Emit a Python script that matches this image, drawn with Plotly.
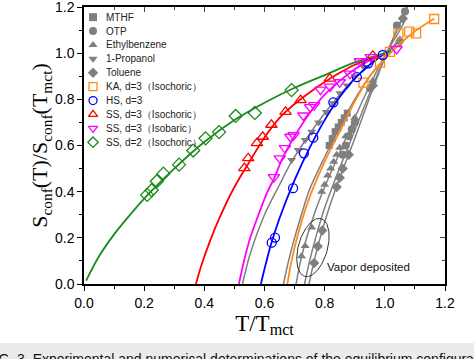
import numpy as np
import plotly.graph_objects as go

# ---------------- data ----------------
# SS, d=2 (Isochoric) - green diamonds and fit
ss2_x = [0.210, 0.225, 0.242, 0.264, 0.316, 0.363, 0.404, 0.449, 0.504, 0.568, 0.690]
ss2_y = [0.386, 0.406, 0.445, 0.478, 0.517, 0.578, 0.631, 0.658, 0.728, 0.741, 0.840]
ss2_fit_x = [0.007, 0.05, 0.10, 0.15, 0.20, 0.30, 0.40, 0.50, 0.60, 0.70, 0.80, 0.90, 1.00, 1.02]
ss2_fit_y = [0.015, 0.12, 0.215, 0.295, 0.37, 0.50, 0.615, 0.71, 0.785, 0.85, 0.905, 0.96, 1.00, 1.01]

# SS, d=3 (Isochoric) - red triangles and fit
ssc_x = [0.533, 0.546, 0.575, 0.594, 0.623, 0.670, 0.720, 0.817, 0.960]
ssc_y = [0.502, 0.545, 0.610, 0.638, 0.690, 0.746, 0.797, 0.890, 0.989]
ssc_fit_x = [0.372, 0.39, 0.42, 0.45, 0.50, 0.55, 0.60, 0.65, 0.70, 0.75, 0.80, 0.85, 0.90, 0.95, 1.00]
ssc_fit_y = [0.0, 0.08, 0.19, 0.285, 0.42, 0.53, 0.635, 0.72, 0.78, 0.83, 0.875, 0.915, 0.95, 0.975, 1.0]

# SS, d=3 (Isobaric) - magenta inverted triangles and fit
ssp_x = [0.631, 0.651, 0.668, 0.686, 0.697, 0.729, 0.752, 0.765, 0.786, 0.818, 0.850, 0.884, 0.917, 0.953, 1.039]
ssp_y = [0.463, 0.544, 0.589, 0.638, 0.645, 0.730, 0.766, 0.775, 0.842, 0.855, 0.874, 0.911, 0.965, 0.983, 1.018]
ssp_fit_x = [0.515, 0.53, 0.55, 0.58, 0.61, 0.633, 0.66, 0.70, 0.75, 0.80, 0.85, 0.90, 0.95, 1.00]
ssp_fit_y = [0.0, 0.09, 0.19, 0.30, 0.40, 0.46, 0.545, 0.64, 0.74, 0.82, 0.88, 0.93, 0.97, 1.0]

# HS, d=3 - blue circles and fit
hs_x = [0.624, 0.635, 0.695, 0.731, 0.762, 0.829, 0.907, 0.945, 0.993]
hs_y = [0.179, 0.201, 0.415, 0.566, 0.634, 0.787, 0.896, 0.956, 0.992]
hs_fit_x = [0.588, 0.60, 0.62, 0.65, 0.70, 0.75, 0.80, 0.85, 0.90, 0.95, 1.00]
hs_fit_y = [0.0, 0.065, 0.165, 0.285, 0.45, 0.59, 0.71, 0.81, 0.89, 0.95, 1.0]

# KA, d=3 (Isochoric) - orange squares and fit
ka_x = [0.929, 0.984, 1.017, 1.045, 1.081, 1.104, 1.164]
ka_y = [0.872, 0.959, 1.006, 1.086, 1.093, 1.086, 1.148]
ka_fit_x = [0.676, 0.69, 0.71, 0.735, 0.76, 0.80, 0.85, 0.90, 0.95, 1.00, 1.05, 1.10, 1.165]
ka_fit_y = [0.0, 0.10, 0.21, 0.32, 0.41, 0.53, 0.66, 0.79, 0.90, 0.975, 1.04, 1.095, 1.15]

# Experimental (grey)
mthf_x = [0.815, 0.825, 0.835, 0.845, 0.855, 0.865, 0.875]
mthf_y = [0.60, 0.63, 0.66, 0.68, 0.70, 0.72, 0.74]
mthf_fit_x = [0.663, 0.68, 0.70, 0.725, 0.75, 0.80, 0.85, 0.90, 0.95, 1.00, 1.04]
mthf_fit_y = [0.0, 0.10, 0.20, 0.31, 0.41, 0.55, 0.68, 0.80, 0.90, 0.98, 1.05]

otp_x = [0.860, 0.870, 0.880, 0.890, 0.900, 0.951, 1.040, 1.067]
otp_y = [0.560, 0.600, 0.640, 0.670, 0.700, 0.848, 1.120, 1.180]
otp_fit_x = [0.733, 0.75, 0.77, 0.80, 0.84, 0.88, 0.92, 0.96, 1.00, 1.04, 1.075]
otp_fit_y = [0.0, 0.10, 0.20, 0.33, 0.47, 0.60, 0.73, 0.86, 0.98, 1.10, 1.20]

ethyl_x = [0.723, 0.735, 0.757, 0.790, 0.800, 0.810, 0.820, 0.830, 0.840, 0.850, 0.870, 0.900, 0.960, 1.050]
ethyl_y = [0.120, 0.165, 0.245, 0.400, 0.430, 0.470, 0.500, 0.530, 0.560, 0.590, 0.640, 0.720, 0.880, 1.060]
ethyl_fit_x = [0.705, 0.72, 0.74, 0.77, 0.80, 0.85, 0.90, 0.95, 1.00, 1.05, 1.07]
ethyl_fit_y = [0.0, 0.10, 0.20, 0.32, 0.42, 0.57, 0.72, 0.86, 0.99, 1.10, 1.15]

prop_x = [0.690, 0.712, 0.735, 0.757, 0.780, 0.805, 0.829, 0.851, 0.875, 0.900, 0.930, 0.960, 1.050]
prop_y = [0.537, 0.580, 0.624, 0.660, 0.700, 0.745, 0.783, 0.826, 0.860, 0.900, 0.940, 0.970, 1.043]
prop_fit_x = [0.527, 0.55, 0.60, 0.65, 0.69, 0.75, 0.80, 0.85, 0.90, 0.95, 1.00, 1.06]
prop_fit_y = [0.0, 0.12, 0.30, 0.43, 0.53, 0.65, 0.74, 0.82, 0.89, 0.95, 1.00, 1.06]

tol_x = [0.765, 0.777, 0.792, 0.840, 0.850, 0.860, 0.880, 0.960, 1.060]
tol_y = [0.091, 0.163, 0.232, 0.420, 0.460, 0.500, 0.560, 0.860, 1.150]
tol_fit_x = [0.748, 0.765, 0.785, 0.81, 0.85, 0.90, 0.95, 1.00, 1.04, 1.075]
tol_fit_y = [0.0, 0.10, 0.20, 0.31, 0.46, 0.63, 0.81, 0.98, 1.10, 1.20]

legend_labels = ["MTHF", "OTP", "Ethylbenzene", "1-Propanol", "Toluene",
                 "KA, d=3（Isochoric）", "HS, d=3", "SS, d=3（Isochoric）",
                 "SS, d=3（Isobaric）", "SS, d=2（Isochoric）"]

x_ticks = [0.0, 0.2, 0.4, 0.6, 0.8, 1.0, 1.2]
y_ticks = [0.0, 0.2, 0.4, 0.6, 0.8, 1.0, 1.2]

# ---------------- styles ----------------
GREY = "#7f7f7f"
ORANGE = "#ff8c1a"
BLUE = "#0000ff"
RED = "#ff0000"
MAGENTA = "#ff00ff"
GREEN = "#1a8a1a"

fig = go.Figure()

def line(x, y, color, width=1.6):
    fig.add_trace(go.Scatter(x=x, y=y, mode="lines", line=dict(color=color, width=width, shape="spline", smoothing=0.8),
                             showlegend=False, hoverinfo="skip"))

def pts(x, y, color, symbol, size, filled):
    if filled:
        m = dict(color=color, symbol=symbol, size=size, line=dict(width=0))
    else:
        m = dict(color="rgba(0,0,0,0)", symbol=symbol, size=size, line=dict(color=color, width=1.3))
    fig.add_trace(go.Scatter(x=x, y=y, mode="markers", marker=m, showlegend=False, hoverinfo="skip"))

# grey experimental
for fx, fy in [(mthf_fit_x, mthf_fit_y), (otp_fit_x, otp_fit_y), (ethyl_fit_x, ethyl_fit_y),
               (prop_fit_x, prop_fit_y), (tol_fit_x, tol_fit_y)]:
    line(fx, fy, GREY, 1.5)
pts(mthf_x, mthf_y, GREY, "square", 7, True)
pts(otp_x, otp_y, GREY, "circle", 8, True)
pts(ethyl_x, ethyl_y, GREY, "triangle-up", 8, True)
pts(prop_x, prop_y, GREY, "triangle-down", 8, True)
pts(tol_x, tol_y, GREY, "diamond", 8, True)

# simulation
line(ka_fit_x, ka_fit_y, ORANGE, 1.8)
line(hs_fit_x, hs_fit_y, BLUE, 1.8)
line(ssc_fit_x, ssc_fit_y, RED, 1.8)
line(ssp_fit_x, ssp_fit_y, MAGENTA, 1.8)
line(ss2_fit_x, ss2_fit_y, GREEN, 1.8)
pts(ka_x, ka_y, ORANGE, "square", 9, False)
pts(hs_x, hs_y, BLUE, "circle", 9, False)
pts(ssc_x, ssc_y, RED, "triangle-up", 10, False)
pts(ssp_x, ssp_y, MAGENTA, "triangle-down", 10, False)
pts(ss2_x, ss2_y, GREEN, "diamond", 10, False)

# ---------------- hand-drawn legend (compact rows) ----------------
leg_sym = [("square", GREY, True), ("circle", GREY, True), ("triangle-up", GREY, True),
           ("triangle-down", GREY, True), ("diamond", GREY, True), ("square", ORANGE, False),
           ("circle", BLUE, False), ("triangle-up", RED, False), ("triangle-down", MAGENTA, False),
           ("diamond", GREEN, False)]
LEG_X0, LEG_TX, LEG_Y0, LEG_DY = 0.030, 0.066, 1.156, 0.0602
for i, (lab, (sym, col, filled)) in enumerate(zip(legend_labels, leg_sym)):
    yy = LEG_Y0 - i * LEG_DY
    pts([LEG_X0], [yy], col, sym, 8, filled)
    fig.add_annotation(x=LEG_TX, y=yy, text=lab, showarrow=False, xanchor="left", yanchor="middle",
                       font=dict(family="Liberation Sans, Arial", size=10, color="#222"))

# ---------------- "Vapor deposited" ellipse ----------------
ELL_CX, ELL_CY = 0.761, 0.158      # centre (data units)
ELL_A, ELL_B, ELL_TILT = 30.0, 14.5, 16.0   # semi-axes (px), tilt (deg from vertical)
PX_X, PX_Y = 300.8, 230.8          # pixels per data unit
t = np.linspace(0, 2 * np.pi, 120)
ang = np.radians(ELL_TILT)
ex_px = ELL_B * np.cos(t) * np.cos(ang) + ELL_A * np.sin(t) * np.sin(ang)
ey_px = -ELL_B * np.cos(t) * np.sin(ang) + ELL_A * np.sin(t) * np.cos(ang)
fig.add_trace(go.Scatter(x=ELL_CX + ex_px / PX_X, y=ELL_CY + ey_px / PX_Y, mode="lines",
                         line=dict(color="#333", width=1), showlegend=False, hoverinfo="skip"))
fig.add_annotation(x=0.800, y=0.074, text="Vapor deposited", showarrow=False, xanchor="left",
                   yanchor="middle", font=dict(family="Liberation Sans, Arial", size=11.5, color="#111"))

# ---------------- caption strip ----------------
fig.add_shape(type="rect", xref="paper", yref="paper", x0=-0.3, x1=1.2, y0=-0.28, y1=-0.213,
              fillcolor="#ebebeb", line=dict(width=0), layer="below")
fig.add_annotation(xref="paper", yref="paper", x=-0.277, y=-0.233, xanchor="left", yanchor="top",
                   text="FIG. 3. Experimental and numerical determinations of the equilibrium configurational",
                   showarrow=False, font=dict(family="Liberation Sans, Arial", size=14, color="#111"))

# ---------------- axes ----------------
tickfont = dict(family="Liberation Sans, Arial", size=14, color="black")
axis_common = dict(range=[0, 1.2], showgrid=False, zeroline=False, showline=True, linecolor="black",
                   linewidth=1.5, ticks="outside", ticklen=5, tickwidth=1.3, tickcolor="black",
                   minor=dict(ticks="outside", ticklen=3, tickwidth=1.2, dtick=0.1, tickcolor="black"),
                   tickfont=tickfont, automargin=False, ticklabeloverflow="allow")
fig.update_layout(
    width=474, height=359, margin=dict(l=84, r=29, t=7, b=75, autoexpand=False),
    paper_bgcolor="white", plot_bgcolor="white",
    xaxis=dict(**axis_common, tickvals=x_ticks, ticktext=[f"{v:.1f}" for v in x_ticks],
               title=dict(text="T/T<sub>mct</sub>", standoff=0,
                          font=dict(family="Liberation Serif, Times New Roman", size=23, color="black"))),
    yaxis=dict(**axis_common, tickvals=y_ticks, ticktext=[f"{v:.1f}" for v in y_ticks],
               title=dict(text="S<sub>conf</sub>(T)/S<sub>conf</sub>(T<sub>mct</sub>)", standoff=0,
                          font=dict(family="Liberation Serif, Times New Roman", size=22, color="black"))),
    xaxis2=dict(range=[0, 1.2], overlaying="x", side="top", showgrid=False, zeroline=False,
                showline=True, linecolor="black", linewidth=1.5, ticks="inside", ticklen=5,
                tickwidth=1.3, tickvals=x_ticks, showticklabels=False, automargin=False,
                minor=dict(ticks="inside", ticklen=3, tickwidth=1.2, dtick=0.1), anchor="y"),
    yaxis2=dict(range=[0, 1.2], overlaying="y", side="right", showgrid=False, zeroline=False,
                showline=True, linecolor="black", linewidth=1.5, ticks="inside", ticklen=5,
                tickwidth=1.3, tickvals=y_ticks, showticklabels=False, automargin=False,
                minor=dict(ticks="inside", ticklen=3, tickwidth=1.2, dtick=0.1), anchor="x"),
    showlegend=False,
)
# dummy trace to activate secondary axes
fig.add_trace(go.Scatter(x=[None], y=[None], xaxis="x2", yaxis="y2", showlegend=False))

fig.write_html("out.html", config={"displayModeBar": False},
               post_script="document.body.style.margin='0';document.body.style.overflow='hidden';")
